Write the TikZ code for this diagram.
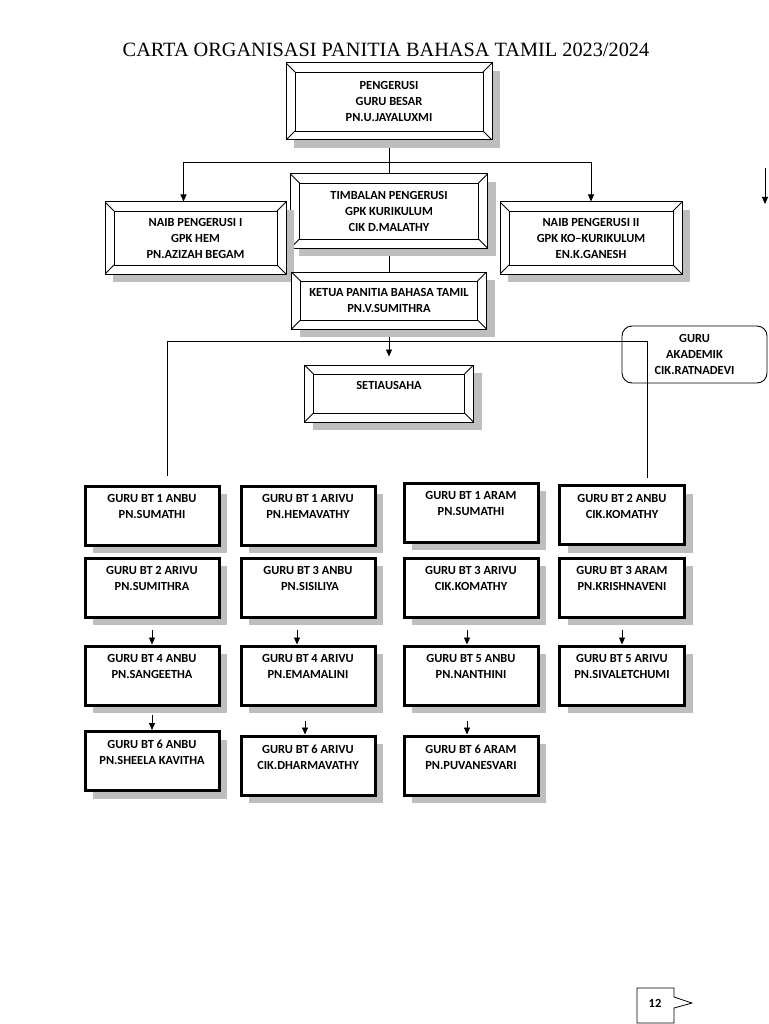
\documentclass[tikz,border=0pt]{standalone}
\usepackage{fontspec}
\setmainfont{Liberation Serif}
\newfontfamily\boxfont{Carlito}
\usetikzlibrary{arrows.meta,shadows,backgrounds}
\definecolor{ShadowGray}{RGB}{190,190,190}
\tikzset{
  boxfontstyle/.style={font=\boxfont\bfseries\fontsize{12.4}{16}\selectfont},
  bevelbox/.style={draw, line width=1pt, fill=white, align=center, boxfontstyle,
    drop shadow={shadow xshift=8pt, shadow yshift=-8pt, fill=ShadowGray, opacity=1},
    path picture={
      \draw[line width=0.9pt] ([shift={(9pt,-9pt)}]path picture bounding box.north west) rectangle ([shift={(-9pt,9pt)}]path picture bounding box.south east);
      \draw[line width=0.9pt] (path picture bounding box.north west) -- ++(9pt,-9pt);
      \draw[line width=0.9pt] (path picture bounding box.north east) -- ++(-9pt,-9pt);
      \draw[line width=0.9pt] (path picture bounding box.south west) -- ++(9pt,9pt);
      \draw[line width=0.9pt] (path picture bounding box.south east) -- ++(-9pt,9pt);
    }},
  gurubox/.style={draw, line width=3pt, fill=white, minimum width=134pt, minimum height=59pt,
    drop shadow={shadow xshift=8pt, shadow yshift=-8pt, fill=ShadowGray, opacity=1}},
  gurutext/.style={boxfontstyle, align=center, inner sep=0pt, anchor=north, yshift=-10pt},
  roundbox/.style={draw, line width=0.9pt, rounded corners=10pt, align=center, boxfontstyle},
  conn/.style={line width=0.9pt},
  arr/.style={conn, -{Triangle[length=7pt,width=6pt]}},
}

\begin{document}
\begin{tikzpicture}[x=1pt, y=-1pt]
    \useasboundingbox (0,0) rectangle (768,1024);
    \node[font=\fontsize{20.3}{24}\selectfont] (title) at (386,50) {CARTA ORGANISASI PANITIA BAHASA TAMIL 2023/2024};

    % Top of the chart
    \node[bevelbox, minimum width=206pt, minimum height=77pt] (peng) at (389,101.5) {PENGERUSI\\GURU BESAR\\PN.U.JAYALUXMI};
    \node[bevelbox, minimum width=197pt, minimum height=74pt] (tim) at (389,211) {TIMBALAN PENGERUSI\\GPK KURIKULUM\\CIK D.MALATHY};
    \node[bevelbox, minimum width=181pt, minimum height=72pt] (naib1) at (195.5,238) {NAIB PENGERUSI I\\GPK HEM\\PN.AZIZAH BEGAM};
    \node[bevelbox, minimum width=182pt, minimum height=72pt] (naib2) at (591,238) {NAIB PENGERUSI II\\GPK KO\textendash KURIKULUM\\EN.K.GANESH};
    \node[bevelbox, minimum width=195pt, minimum height=57pt] (ketua) at (389,300.5) {KETUA PANITIA BAHASA TAMIL\\PN.V.SUMITHRA};
    \node[bevelbox, minimum width=169pt, minimum height=57pt, text depth=16pt] (seti) at (389,393.5) {SETIAUSAHA};
    \node[roundbox, minimum width=145pt, minimum height=57pt] (akad) at (694.5,354.5) {GURU\\AKADEMIK\\CIK.RATNADEVI};

    % Teachers, column by column
    \node[gurubox, label={[gurutext]north:GURU BT 1 ANBU\\PN.SUMATHI}] (c1r1) at (152,515.5) {};
    \node[gurubox, label={[gurutext]north:GURU BT 2 ARIVU\\PN.SUMITHRA}] (c1r2) at (152,587.5) {};
    \node[gurubox, label={[gurutext]north:GURU BT 4 ANBU\\PN.SANGEETHA}] (c1r3) at (152,675.5) {};
    \node[gurubox, label={[gurutext]north:GURU BT 6 ANBU\\PN.SHEELA KAVITHA}] (c1r4) at (152,761) {};

    \node[gurubox, label={[gurutext]north:GURU BT 1 ARIVU\\PN.HEMAVATHY}] (c2r1) at (308,515.5) {};
    \node[gurubox, label={[gurutext]north:GURU BT 3 ANBU\hspace{24pt}\\\hspace{4pt}PN.SISILIYA}] (c2r2) at (308,587.5) {};
    \node[gurubox, label={[gurutext]north:GURU BT 4 ARIVU\\PN.EMAMALINI}] (c2r3) at (308,675.5) {};
    \node[gurubox, label={[gurutext]north:GURU BT 6 ARIVU\\CIK.DHARMAVATHY}] (c2r4) at (308,765.5) {};

    \node[gurubox, label={[gurutext]north:GURU BT 1 ARAM\\PN.SUMATHI}] (c3r1) at (471,512.5) {};
    \node[gurubox, label={[gurutext]north:GURU BT 3 ARIVU\\CIK.KOMATHY}] (c3r2) at (471,587.5) {};
    \node[gurubox, label={[gurutext]north:GURU BT 5 ANBU\\PN.NANTHINI}] (c3r3) at (471,675.5) {};
    \node[gurubox, label={[gurutext]north:GURU BT 6 ARAM\\PN.PUVANESVARI}] (c3r4) at (471,765.5) {};

    \node[gurubox, minimum width=125pt, label={[gurutext]north:GURU BT 2 ANBU\\CIK.KOMATHY}] (c4r1) at (622,515) {};
    \node[gurubox, minimum width=125pt, label={[gurutext]north:GURU BT 3 ARAM\\PN.KRISHNAVENI}] (c4r2) at (622,587.5) {};
    \node[gurubox, minimum width=125pt, label={[gurutext]north:GURU BT 5 ARIVU\\PN.SIVALETCHUMI}] (c4r3) at (622,675.5) {};

    % Page number tab
    \draw[line width=0.8pt, fill=white] (637,988) -- (674,988) -- (674,997) -- (692,1003) -- (674,1008) -- (674,1023) -- (637,1023) -- cycle;
    \node[boxfontstyle] (pagenum) at (655,1003) {12};

    % Connectors
    \coordinate (split) at (389,162);
    \coordinate (legL) at (167,476);
    \coordinate (barL) at (167,341);
    \coordinate (barR) at (647,341);
    \coordinate (legR) at (647,478);
    \coordinate (edgeTop) at (765,168);
    \coordinate (edgeEnd) at (765,204);
    \begin{scope}[on background layer]
        \draw[conn] (peng) -- (tim);
        \draw[arr] (split) -| ([xshift=-12pt]naib1.north);
        \draw[arr] (split) -| (naib2.north);
        \draw[conn] (tim) -- (ketua);
        \draw[arr, shorten >=8pt] (ketua) -- (seti);
        \draw[conn] (legL) -- (barL) -- (barR) -- (legR);
        \draw[arr] (edgeTop) -- (edgeEnd);

        \draw[arr] ([yshift=-11pt]c1r2.south) -- (c1r3.north);
        \draw[arr] ([yshift=-8pt]c1r3.south) -- (c1r4.north);
        \draw[arr] ([xshift=-11pt, yshift=-11pt]c2r2.south) -- ([xshift=-11pt]c2r3.north);
        \draw[arr] ([xshift=-3pt, yshift=-14pt]c2r3.south) -- ([xshift=-3pt]c2r4.north);
        \draw[arr] ([xshift=-4pt, yshift=-11pt]c3r2.south) -- ([xshift=-4pt]c3r3.north);
        \draw[arr] ([xshift=-4pt, yshift=-14pt]c3r3.south) -- ([xshift=-4pt]c3r4.north);
        \draw[arr] ([yshift=-11pt]c4r2.south) -- (c4r3.north);
    \end{scope}
\end{tikzpicture}
\end{document}
